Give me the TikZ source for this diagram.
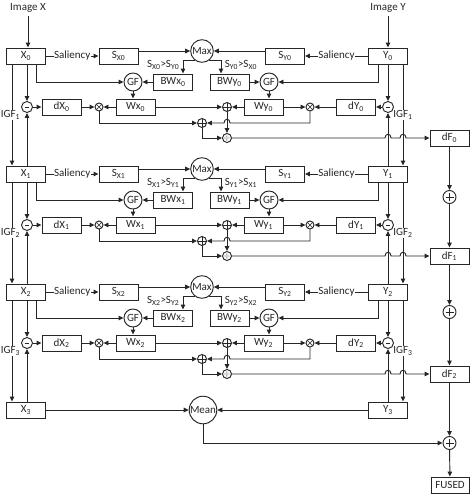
\documentclass[tikz,border=0pt]{standalone}
\usepackage{fontspec}
\setmainfont{Carlito}
\usetikzlibrary{arrows.meta}

\begin{document}
\begin{tikzpicture}[x=1pt,y=-1pt,line width=0.95pt,draw=black!85,
    >={Triangle[length=5pt,width=4.5pt]},
    every node/.style={font=\fontsize{11}{13}\selectfont,text=black!85},
    blk/.style={draw,minimum width=39pt,minimum height=16pt,inner sep=1pt},
    opc/.style={draw,circle,inner sep=0.8pt},
    lbl/.style={fill=white,inner sep=0.5pt},
    sumc/.style={draw,circle,minimum size=9pt,inner sep=0pt,
      path picture={\draw[line width=0.6pt] (path picture bounding box.north) -- (path picture bounding box.south)
        (path picture bounding box.west) -- (path picture bounding box.east);}},
    mulc/.style={draw,circle,minimum size=8pt,inner sep=0pt,
      path picture={\draw[line width=0.6pt] (path picture bounding box.north west) -- (path picture bounding box.south east)
        (path picture bounding box.north east) -- (path picture bounding box.south west);}},
    subc/.style={draw,circle,minimum size=11pt,inner sep=0pt,
      path picture={\draw[line width=1pt] (path picture bounding box.center) +(-2.2pt,0) -- +(2.2pt,0);}},
    divc/.style={draw,circle,minimum size=9pt,inner sep=0pt,font=\footnotesize},
    addc/.style={draw,circle,minimum size=13pt,inner sep=0pt,
      path picture={\draw (path picture bounding box.center) +(-4pt,0) -- +(4pt,0) +(0,-4pt) -- +(0,4pt);}}]

    \useasboundingbox (0,0) rectangle (474,498);

    % Draw the inputs
    \node (ImgX) at (28,8) {Image X};
    \node (ImgY) at (388,8) {Image Y};

    % Draw the levels
    \foreach \i/\y in {0/56,1/174,2/292,3/410}{
      \node[blk] (X\i) at (26,\y) {X\textsubscript{\i}};
      \node[blk] (Y\i) at (388,\y) {Y\textsubscript{\i}};
    }
    \draw[->] (ImgX) -- (ImgX |- X0.north);
    \draw[->] (ImgY) -- (Y0);

    \foreach \i/\j/\y in {0/1/56,1/2/174,2/3/292}{
      % saliency, max and guided filter
      \node[blk] (Sx\i) at (118.5,\y) {S\textsubscript{X\i}};
      \node[blk] (Sy\i) at (285,\y) {S\textsubscript{Y\i}};
      \node[opc] (Max\i) at (202,\y-5) {Max};
      \node[opc,minimum size=18pt] (GFx\i) at (133,\y+26) {GF};
      \node[blk] (BWx\i) at (173,\y+26) {BWx\textsubscript{\i}};
      \node[blk] (BWy\i) at (229.5,\y+26) {BWy\textsubscript{\i}};
      \node[opc,minimum size=18pt] (GFy\i) at (269,\y+26) {GF};
      % detail row
      \node[subc] (Mx\i) at (27,\y+51) {};
      \node[blk] (dX\i) at (61.5,\y+51) {dX\textsubscript{\i}};
      \node[mulc] (Px\i) at (99,\y+51) {};
      \node[blk] (Wx\i) at (135.5,\y+51) {Wx\textsubscript{\i}};
      \node[sumc] (Ws\i) at (227,\y+51) {};
      \node[blk] (Wy\i) at (263.5,\y+51) {Wy\textsubscript{\i}};
      \node[mulc] (Py\i) at (310,\y+51) {};
      \node[blk] (dY\i) at (356,\y+51) {dY\textsubscript{\i}};
      \node[subc] (My\i) at (388,\y+51) {};
      \node[sumc] (Ps\i) at (202,\y+67) {};
      \node[divc] (Dv\i) at (227,\y+82) {$\div$};
      \node[blk] (dF\i) at (449.5,\y+82) {dF\textsubscript{\i}};

      \draw[->] (X\i) -- node[lbl] {Saliency} (Sx\i);
      \draw[->] (Y\i) -- node[lbl] {Saliency} (Sy\i);
      \draw[->] (Sx\i.east |- Max\i) -- (Max\i);
      \draw[->] (Sy\i.west |- Max\i) -- (Max\i);
      \draw[->] (Max\i.235) -| node[pos=0.5,anchor=east,yshift=-4pt] {S\textsubscript{X\i}>S\textsubscript{Y\i}} ([xshift=10pt]BWx\i.north);
      \draw[->] (Max\i.305) -| node[pos=0.5,anchor=west,yshift=-4pt] {S\textsubscript{Y\i}>S\textsubscript{X\i}} ([xshift=-8.5pt]BWy\i.north);
      \draw[->] ([xshift=10pt]X\i.south) |- (GFx\i);
      \draw[->] ([xshift=-10pt]Y\i.south) |- (GFy\i);
      \draw[->] (BWx\i) -- (GFx\i);
      \draw[->] (BWy\i) -- (GFy\i);
      \draw[->] (GFx\i) -- (GFx\i |- Wx\i.north);
      \draw[->] (GFy\i) -- (GFy\i |- Wy\i.north);

      % differences between levels
      \draw[->] (X\i.south -| Mx\i) -- (Mx\i);
      \draw[->] (X\j.north -| Mx\i) -- (Mx\i);
      \draw[->] (Y\i.south -| My\i) -- (My\i);
      \draw[->] (Y\j.north -| My\i) -- (My\i);
      \draw[->] ([xshift=-14pt]X\i.south) -- node[lbl,xshift=-1.5pt] {IGF\textsubscript{\j}} ([xshift=-14pt]X\j.north);
      \draw[->] ([xshift=15pt]Y\i.south) -- node[lbl] {IGF\textsubscript{\j}} ([xshift=15pt]Y\j.north);

      % weighted fusion
      \draw[->] (Mx\i) -- (dX\i);
      \draw[->] (My\i) -- (dY\i);
      \draw[->] (dX\i) -- (Px\i);
      \draw[->] (Wx\i) -- (Px\i);
      \draw[->] (dY\i) -- (Py\i);
      \draw[->] (Wy\i) -- (Py\i);
      \draw[->] (Wx\i) -- (Ws\i);
      \draw[->] (Wy\i) -- (Ws\i);
      \draw[->] (Px\i) |- (Ps\i);
      \draw[->] (Py\i) |- (230,\y+67) .. controls (230,\y+62) and (224,\y+62) .. (224,\y+67) -- (Ps\i);
      \draw[->] (Ws\i) -- (Dv\i);
      \draw[->] (Ps\i) |- (Dv\i);
      \draw[->] (Dv\i) -- (385,\y+82) .. controls (385,\y+77) and (391,\y+77) .. (391,\y+82)
        -- (400,\y+82) .. controls (400,\y+77) and (406,\y+77) .. (406,\y+82) -- (dF\i);
    }

    % Draw the output chain
    \node[opc,inner sep=0.3pt] (Mean) at (203,410) {Mean};
    \node[addc] (Fs0) at (449.5,197) {};
    \node[addc] (Fs1) at (449.5,312) {};
    \node[addc] (Fin) at (449.5,443) {};
    \node[blk,minimum width=38pt] (Fused) at (450,485) {FUSED};
    \foreach \i/\j in {0/1,1/2}{
      \draw[->] (dF\i) -- (Fs\i);
      \draw[->] (Fs\i) -- (dF\j);
    }
    \draw[->] (X3) -- (Mean);
    \draw[->] (Y3) -- (Mean);
    \draw[->] (Mean) |- (Fin);
    \draw[->] (dF2) -- (Fin);
    \draw[->] (Fin) -- (Fused);

\end{tikzpicture}
\end{document}
